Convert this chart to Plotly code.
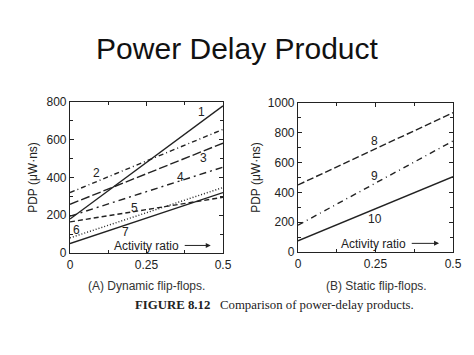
import plotly.graph_objects as go

# Data
x_vals = [0, 0.5]
left_series = {
    "1": [180, 780],
    "2": [320, 655],
    "3": [258, 582],
    "4": [195, 455],
    "5": [165, 295],
    "6": [80, 347],
    "7": [50, 320],
}
left_dash = {"1": "solid", "2": "5px,3px,1px,3px", "3": "9px,3px", "4": "7px,4px,2px,4px",
             "5": "5px,3px", "6": "1px,2px", "7": "solid"}
left_label_pos = {"1": (0.43, 745), "2": (0.085, 425), "3": (0.436, 505), "4": (0.36, 404),
                  "5": (0.212, 241), "6": (0.022, 121), "7": (0.18, 112)}

right_series = {
    "8": [450, 935],
    "9": [180, 745],
    "10": [75, 505],
}
right_dash = {"8": "7px,3px", "9": "6px,4px,1px,4px", "10": "solid"}
right_label_pos = {"8": (0.248, 746), "9": (0.248, 508), "10": (0.248, 220)}

x_ticks = [0, 0.25, 0.5]
x_ticklabels = ["0", "0.25", "0.5"]
left_yticks = [0, 200, 400, 600, 800]
right_yticks = [0, 200, 400, 600, 800, 1000]

# page body has an 8px default margin; compensate so that screen pixels match
W, H, OFF = 474, 355, 8


def fx(p):
    return (p - OFF) / W


def fy(p):
    return 1 - (p - OFF) / H


fig = go.Figure()
for name, ys in left_series.items():
    fig.add_trace(go.Scatter(x=x_vals, y=ys, mode="lines", xaxis="x", yaxis="y",
                             line=dict(color="#222", width=1.4, dash=left_dash[name]),
                             showlegend=False, hoverinfo="skip"))
for name, ys in right_series.items():
    fig.add_trace(go.Scatter(x=x_vals, y=ys, mode="lines", xaxis="x2", yaxis="y2",
                             line=dict(color="#222", width=1.4, dash=right_dash[name]),
                             showlegend=False, hoverinfo="skip"))

font_sans = "Liberation Sans, Arial, sans-serif"
ann = []
for name, (px, py) in left_label_pos.items():
    ann.append(dict(x=px, y=py, xref="x", yref="y", text=name, showarrow=False, borderpad=0,
                    font=dict(size=12, color="#222", family=font_sans)))
for name, (px, py) in right_label_pos.items():
    ann.append(dict(x=px, y=py, xref="x2", yref="y2", text=name, showarrow=False,
                    font=dict(size=12, color="#222", family=font_sans)))

# Activity ratio labels + arrows
ann.append(dict(x=0.25, y=36, xref="x", yref="y", text="Activity ratio", showarrow=False, borderpad=0,
                font=dict(size=12, color="#222", family=font_sans)))
ann.append(dict(x=0.46, y=40, ax=0.37, ay=40, xref="x", yref="y", axref="x", ayref="y",
                text="", showarrow=True, arrowhead=2, arrowsize=1, arrowwidth=1, arrowcolor="#222"))
ann.append(dict(x=0.243, y=56, xref="x2", yref="y2", text="Activity ratio", showarrow=False,
                font=dict(size=12, color="#222", family=font_sans)))
ann.append(dict(x=0.455, y=58, ax=0.362, ay=58, xref="x2", yref="y2", axref="x2", ayref="y2",
                text="", showarrow=True, arrowhead=2, arrowsize=1, arrowwidth=1, arrowcolor="#222"))

# Panel captions
ann.append(dict(x=fx(146), y=fy(286), xref="paper", yref="paper", xanchor="center", yanchor="middle",
                text="(A) Dynamic flip-flops.",
                showarrow=False, font=dict(size=12, color="#333", family=font_sans)))
ann.append(dict(x=fx(376), y=fy(286), xref="paper", yref="paper", xanchor="center", yanchor="middle",
                text="(B) Static flip-flops.",
                showarrow=False, font=dict(size=12, color="#333", family=font_sans)))
# Figure caption
ann.append(dict(x=fx(274), y=fy(305), xref="paper", yref="paper", xanchor="center", yanchor="middle",
                text="<b>FIGURE 8.12</b>   Comparison of power-delay products.",
                showarrow=False, font=dict(size=12.8, color="#222", family="Liberation Serif, Times New Roman, serif")))

axis_common = dict(showline=True, linecolor="#222", linewidth=1.2, mirror="ticks", ticks="inside",
                   ticklen=4, tickcolor="#222", showgrid=False, zeroline=False, automargin=False,
                   tickfont=dict(size=12, color="#222", family=font_sans))
minor_x = dict(ticks="inside", ticklen=3, tickcolor="#222", dtick=0.125, showgrid=False)

fig.update_layout(
    width=W, height=H,
    margin=dict(l=0, r=0, t=0, b=0),
    paper_bgcolor="white", plot_bgcolor="white",
    title=dict(text="Power Delay Product", x=fx(237), xanchor="center", y=fy(48), yanchor="middle",
               automargin=False,
               font=dict(size=30, color="#111", family="Liberation Sans, Arial, sans-serif")),
    xaxis=dict(domain=[fx(70), fx(223)], range=[0, 0.5], tickvals=x_ticks, ticktext=x_ticklabels,
               anchor="y", minor=minor_x, **axis_common),
    yaxis=dict(domain=[fy(253), fy(102)], range=[0, 800], tickvals=left_yticks, anchor="x",
               minor=dict(ticks="inside", ticklen=3, tickcolor="#222", dtick=100, showgrid=False),
               title=dict(text="PDP (μW·ns)", font=dict(size=12, color="#222", family=font_sans), standoff=6),
               **axis_common),
    xaxis2=dict(domain=[fx(298), fx(453)], range=[0, 0.5], tickvals=x_ticks, ticktext=x_ticklabels,
                anchor="y2", minor=minor_x, **axis_common),
    yaxis2=dict(domain=[fy(252), fy(103)], range=[0, 1000], tickvals=right_yticks, anchor="x2",
                minor=dict(ticks="inside", ticklen=3, tickcolor="#222", dtick=100, showgrid=False),
                title=dict(text="PDP (μW·ns)", font=dict(size=12, color="#222", family=font_sans), standoff=4),
                **axis_common),
    annotations=ann,
)

fig.write_html("out.html")
